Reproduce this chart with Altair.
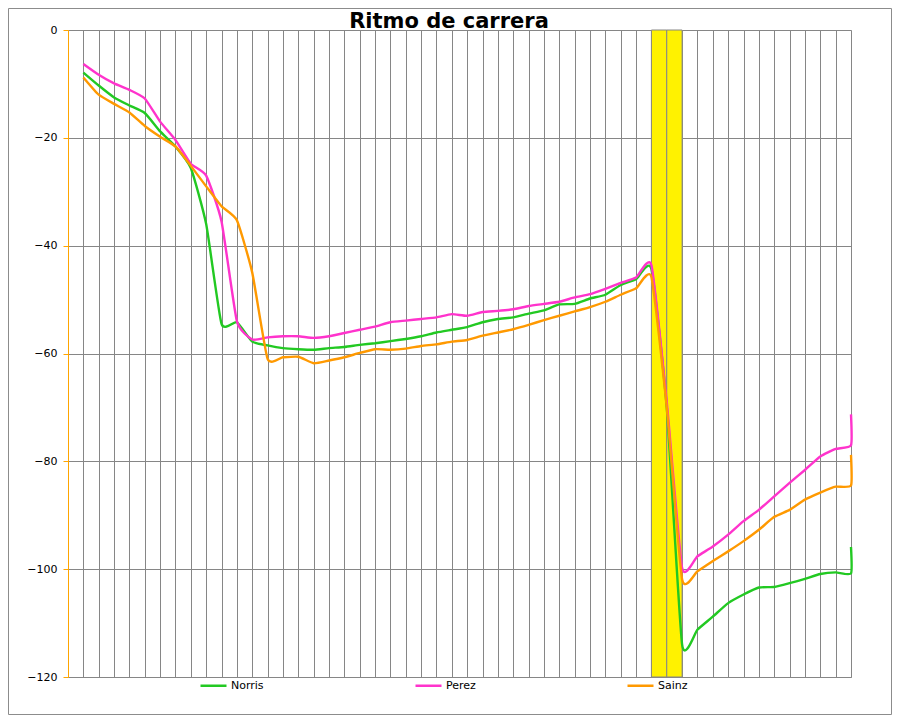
import altair as alt
import pandas as pd

title_text = "Ritmo de carrera"
laps = list(range(1, 52))
drivers = ["Norris", "Perez", "Sainz"]
colors = ["#22C922", "#FF33CC", "#FF9900"]
sc_laps = [39, 40]
y_ticks = [-120, -100, -80, -60, -40, -20, 0]

norris = [-7.9, -10.3, -12.5, -14.0, -15.4, -18.8, -21.6, -25.6, -36.0, -54.5,
          -54.2, -57.8, -58.5, -59.0, -59.2, -59.3, -59.0, -58.8, -58.4, -58.1,
          -57.7, -57.3, -56.8, -56.1, -55.6, -55.1, -54.2, -53.6, -53.3, -52.6,
          -52.0, -50.9, -50.8, -49.8, -49.1, -47.3, -46.2, -44.3, -70.0, -114.0,
          -111.2, -108.8, -106.3, -104.7, -103.4, -103.3, -102.6, -101.8, -100.9, -100.6,
          -100.8]
perez = [-6.3, -8.3, -9.9, -11.1, -12.7, -17.0, -20.4, -24.8, -27.0, -35.5,
         -54.0, -57.4, -57.0, -56.8, -56.8, -57.1, -56.8, -56.2, -55.6, -55.0,
         -54.2, -53.9, -53.6, -53.3, -52.7, -53.0, -52.3, -52.1, -51.8, -51.2,
         -50.8, -50.4, -49.6, -49.0, -48.0, -46.9, -45.9, -43.6, -69.0, -99.8,
         -97.6, -95.8, -93.6, -91.1, -89.0, -86.5, -84.0, -81.6, -79.1, -77.7,
         -77.0]
sainz = [-8.8, -12.0, -13.7, -15.3, -17.8, -19.8, -21.6, -25.2, -29.0, -32.7,
         -35.3, -45.0, -61.0, -60.7, -60.6, -61.8, -61.3, -60.7, -59.9, -59.2,
         -59.3, -59.1, -58.6, -58.3, -57.8, -57.5, -56.7, -56.1, -55.5, -54.7,
         -53.8, -53.0, -52.2, -51.4, -50.4, -49.1, -47.9, -45.8, -70.0, -101.9,
         -100.4, -98.5, -96.7, -94.8, -92.7, -90.3, -89.0, -87.1, -85.8, -84.7,
         -84.5]
# final value drawn at the last lap (vertical jump at the right edge)
end_values = [-95.9, -71.3, -78.8]

rows = []
for d, vals, end in zip(drivers, [norris, perez, sainz], end_values):
    for i, (lap, v) in enumerate(zip(laps + [laps[-1]], vals + [end])):
        rows.append({"driver": d, "lap": lap, "gap": v, "idx": i})
df = pd.DataFrame(rows)

sc_df = pd.DataFrame({"start": [l - 1 for l in sc_laps], "end": sc_laps})

GRID = "#868686"
x_scale = alt.Scale(domain=[0, 51], nice=False, zero=False)
y_scale = alt.Scale(domain=[-120, 0], nice=False)
x_axis = alt.Axis(values=laps, grid=True, labels=False, ticks=False, title=None,
                  domainColor=GRID, gridColor=GRID, gridWidth=1, domainWidth=1)
y_axis = alt.Axis(values=y_ticks, grid=True, title=None, gridColor=GRID, gridWidth=1,
                  domainColor="#FFA500", tickColor="#FFA500", tickSize=5, domainWidth=1,
                  labelFont="DejaVu Sans", labelFontSize=11, labelColor="black",
                  labelPadding=6)

sc = alt.Chart(sc_df).mark_rect(color="#FFF200", stroke=GRID, strokeWidth=1).encode(
    x=alt.X("start:Q", scale=x_scale, axis=x_axis),
    x2="end:Q",
    y=alt.datum(0, scale=y_scale, axis=y_axis),
    y2=alt.datum(-120),
)

lines = alt.Chart(df).mark_line(interpolate="cardinal", tension=0.5, strokeWidth=2.4).encode(
    x=alt.X("lap:Q", scale=x_scale, axis=x_axis),
    y=alt.Y("gap:Q", scale=y_scale, axis=y_axis),
    color=alt.Color("driver:N", scale=alt.Scale(domain=drivers, range=colors),
                    legend=alt.Legend(orient="none", legendX=131, legendY=641,
                                      direction="horizontal", title=None,
                                      symbolType="stroke", symbolSize=676,
                                      symbolStrokeWidth=2.5, labelFont="DejaVu Sans",
                                      labelFontSize=11, labelColor="black",
                                      columnPadding=146, labelOffset=3)),
    order="idx:Q",
)

frame = alt.Chart(pd.DataFrame({"k": [0]})).mark_rect(
    fillOpacity=0, stroke="#8C8C8C", strokeWidth=1).encode(
    x=alt.value(-59.5), x2=alt.value(823.5), y=alt.value(-21.5), y2=alt.value(684.5))

title = alt.Chart(pd.DataFrame({"t": [title_text]})).mark_text(
    font="DejaVu Sans", fontSize=21, fontWeight="bold", color="black",
    align="center", baseline="alphabetic").encode(
    text="t:N", x=alt.value(381), y=alt.value(-2.5))

chart = alt.layer(sc, lines, frame, title).properties(
    width=783, height=647,
    autosize=alt.AutoSizeParams(type="none"),
    padding={"left": 60, "top": 22, "right": 41, "bottom": 38},
).configure_view(stroke=None).configure(background="white")

chart.save("out.html", embed_options={"renderer": "svg", "actions": False})
